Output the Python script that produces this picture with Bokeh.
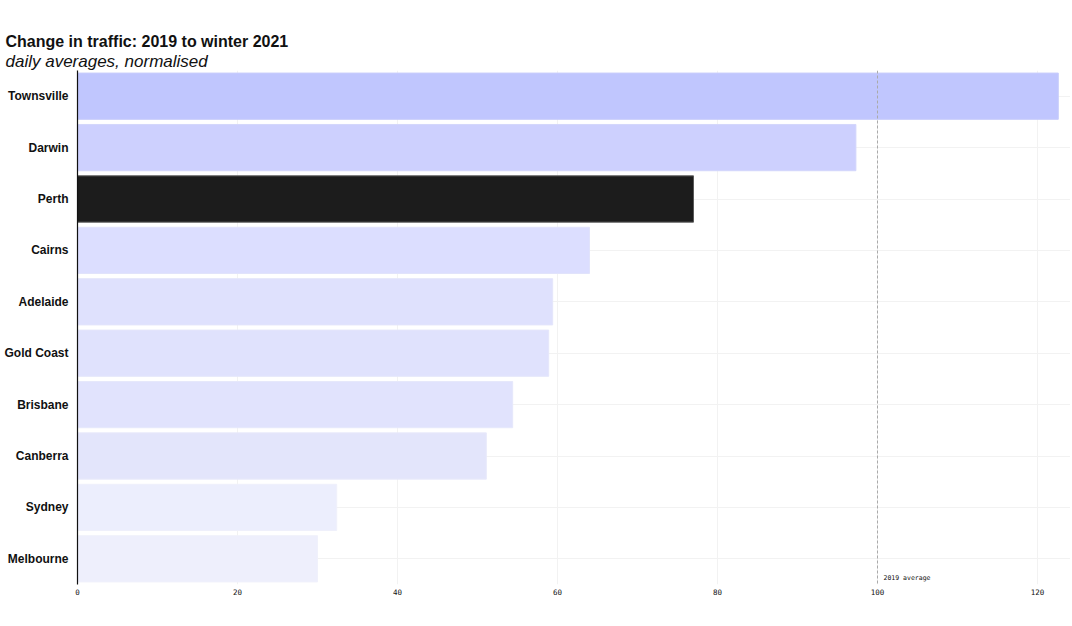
from bokeh.plotting import figure
from bokeh.models import (Range1d, FactorRange, Span, Label, Title, SingleIntervalTicker,
                          FixedTicker, LinearAxis, ColumnDataSource)
from bokeh.embed import file_html
from bokeh.resources import INLINE

cities = ["Townsville", "Darwin", "Perth", "Cairns", "Adelaide", "Gold Coast",
          "Brisbane", "Canberra", "Sydney", "Melbourne"]
values = [122.6, 97.3, 77.0, 64.0, 59.4, 58.9, 54.4, 51.1, 32.4, 30.0]
colors = ["#c0c6fe", "#cdd0fe", "#1c1c1c", "#dcdeff", "#dfe1fd", "#e0e2fd",
          "#e1e3fd", "#e3e5fb", "#eceefd", "#eeeffc"]
outlines = ["#c8cdfb", "#d3d6fb", "#5a5a5a", "#e1e3fb", "#e4e6fb", "#e5e7fb",
            "#e6e8fb", "#e8e9fa", "#eff0fb", "#f0f1fb"]
ref_value = 100
ref_label = "2019 average"
title_text = "Change in traffic: 2019 to winter 2021"
subtitle_text = "daily averages, normalised"

src = ColumnDataSource(dict(city=cities, value=values, color=colors, outline=outlines))

FRAME_LEFT = 77
FRAME_TOP = 70
FRAME_H = 514
W = 1070

p = figure(width=W, height=FRAME_TOP + FRAME_H + 24, output_backend="svg", toolbar_location=None,
           y_range=FactorRange(*list(reversed(cities)), range_padding=0.0),
           x_range=Range1d(0, (W - FRAME_LEFT) / 8.0),
           min_border_left=FRAME_LEFT, min_border_right=0, min_border_bottom=24,
           min_border_top=FRAME_TOP)

p.hbar(y="city", right="value", left=0, height=0.9, source=src,
       fill_color="color", line_color="outline", line_width=1)

p.add_layout(Span(location=ref_value, dimension="height", line_color="#aaaaaa",
                  line_dash="3 2", line_width=1))
p.add_layout(Label(x=ref_value, y=0, x_units="data", y_units="screen", text=ref_label,
                   x_offset=6, y_offset=3, text_font="DejaVu Sans Mono",
                   text_font_size="6.5px", text_color="#111111"))

# invisible, tick-less axis used only as a spacer between the subtitle and the frame
spacer = LinearAxis(ticker=FixedTicker(ticks=[]), axis_line_color=None,
                    major_tick_line_color=None, minor_tick_line_color=None,
                    major_tick_out=22, major_tick_in=0, minor_tick_out=0, minor_tick_in=0,
                    major_label_standoff=0)
p.add_layout(spacer, "above")
p.add_layout(Title(text=subtitle_text, text_font="Liberation Sans", text_font_style="italic",
                   text_font_size="17px", text_color="#111111", align="left",
                   offset=-72, standoff=0), "above")
p.add_layout(Title(text=title_text, text_font="Liberation Sans", text_font_style="bold",
                   text_font_size="16px", text_color="#111111", align="left",
                   offset=-72, standoff=0), "above")

p.outline_line_color = None
p.background_fill_color = "white"

xa = p.below[0]
xa.ticker = SingleIntervalTicker(interval=20)
xa.axis_line_color = None
xa.major_tick_line_color = None
xa.minor_tick_line_color = None
xa.major_tick_out = 0
xa.major_tick_in = 0
xa.minor_tick_out = 0
xa.major_label_text_font = "DejaVu Sans Mono"
xa.major_label_text_font_size = "7.5px"
xa.major_label_text_color = "#111111"
xa.major_label_standoff = 4

ya = p.yaxis[0]
ya.axis_line_color = "#111111"
ya.axis_line_width = 1.2
ya.major_tick_line_color = None
ya.minor_tick_line_color = None
ya.major_tick_out = 0
ya.major_tick_in = 0
ya.minor_tick_out = 0
ya.major_label_text_font = "Liberation Sans"
ya.major_label_text_font_style = "bold"
ya.major_label_text_font_size = "12px"
ya.major_label_text_color = "#111111"
ya.major_label_standoff = 9

p.xgrid.grid_line_color = "#f2f2f2"
p.ygrid.grid_line_color = "#f2f2f2"
p.xgrid.ticker = SingleIntervalTicker(interval=20)

open("out.html", "w").write(file_html(p, INLINE))
